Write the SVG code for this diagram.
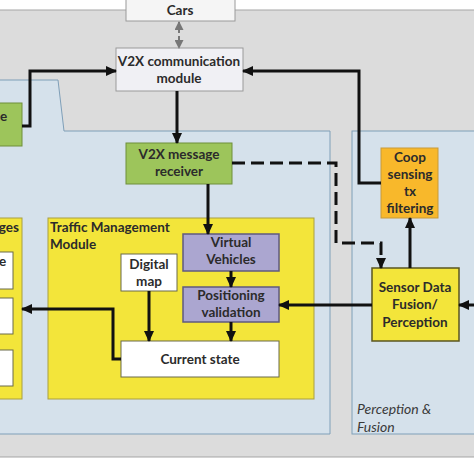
<svg xmlns="http://www.w3.org/2000/svg" width="474" height="474" viewBox="0 0 474 474">
<defs>
<style>
.t{font-family:Lato,"Liberation Sans",sans-serif;font-weight:bold;font-size:13.5px;fill:#2b2b2b;text-anchor:middle}
.tl{font-family:Lato,"Liberation Sans",sans-serif;font-weight:bold;font-size:13.5px;fill:#2b2b2b}
.it{font-family:Lato,"Liberation Sans",sans-serif;font-style:italic;font-size:14px;fill:#3a3a3a}
.c{fill:none;stroke:#111;stroke-width:3}
.d{fill:none;stroke:#111;stroke-width:3;stroke-dasharray:13 6}
.panel{fill:#d5e1eb;stroke:#7f9fb8;stroke-width:1}
.white{fill:#fff;stroke:#6b6b4a;stroke-width:1}
.green{fill:#9dc55b;stroke:#6f8f3a;stroke-width:1}
.purple{fill:#aba6d0;stroke:#5f5a80;stroke-width:1.5}
.yellow{fill:#f3e53a;stroke:#a99f40;stroke-width:1}
</style>
<marker id="ah" markerUnits="userSpaceOnUse" markerWidth="11" markerHeight="10" refX="10" refY="5" orient="auto">
<path d="M0,0 L11,5 L0,10 z" fill="#111"/>
</marker>
<marker id="ag" markerUnits="userSpaceOnUse" markerWidth="9" markerHeight="9" refX="8" refY="4.5" orient="auto">
<path d="M0,0 L9,4.5 L0,9 z" fill="#777"/>
</marker>
<marker id="ags" markerUnits="userSpaceOnUse" markerWidth="9" markerHeight="9" refX="1" refY="4.5" orient="auto">
<path d="M9,0 L0,4.5 L9,9 z" fill="#777"/>
</marker>
</defs>
<rect x="0" y="0" width="474" height="474" fill="#fff"/>
<g id="background">
<rect x="-2" y="10" width="478" height="447" fill="#dcdcdc" stroke="#a5a5a5" stroke-width="1"/>
<path class="panel" d="M-2,80 H58 L64,131 H330 V434 H-2 Z"/>
<rect class="panel" x="352" y="131" width="130" height="303"/>
</g>
<g id="cars">
<rect x="126" y="-2" width="109" height="23" fill="#f5f5f5" stroke="#9a9a9a" stroke-width="1"/>
<text class="t" x="180" y="15">Cars</text>
</g>
<g id="v2x-comm">
<rect x="116" y="48" width="127" height="43" fill="#f0f0f4" stroke="#9a9a9a" stroke-width="1"/>
<text class="t" x="179" y="66">V2X communication</text>
<text class="t" x="179" y="83">module</text>
</g>
<g id="left-green">
<rect class="green" x="-2" y="103" width="24" height="43"/>
<text class="tl" x="0" y="121">e</text>
</g>
<g id="v2x-receiver">
<rect class="green" x="126" y="143" width="106" height="41"/>
<text class="t" x="179" y="159">V2X message</text>
<text class="t" x="179" y="176">receiver</text>
</g>
<g id="coop">
<rect x="381" y="148" width="57" height="70" fill="#f8b82b" stroke="#c79a3a" stroke-width="1"/>
<text class="t" x="410" y="162">Coop</text>
<text class="t" x="410" y="179">sensing</text>
<text class="t" x="410" y="196">tx</text>
<text class="t" x="410" y="213">filtering</text>
</g>
<g id="left-module">
<rect class="yellow" x="-2" y="218" width="24" height="181"/>
<text class="tl" x="19" y="232" style="text-anchor:end">ges</text>
<rect class="white" x="-2" y="252" width="15" height="37"/>
<text class="tl" x="-1" y="266">e</text>
<rect class="white" x="-2" y="298" width="15" height="36"/>
<rect class="white" x="-2" y="350" width="15" height="36"/>
</g>
<g id="traffic-management">
<rect class="yellow" x="48" y="218" width="266" height="181"/>
<text class="tl" x="50" y="232">Traffic Management</text>
<text class="tl" x="50" y="249">Module</text>
</g>
<g id="digital-map">
<rect class="white" x="121" y="254" width="56" height="37"/>
<text class="t" x="149" y="269">Digital</text>
<text class="t" x="149" y="286">map</text>
</g>
<g id="virtual-vehicles">
<rect class="purple" x="183" y="234" width="96" height="37"/>
<text class="t" x="231" y="247">Virtual</text>
<text class="t" x="231" y="264">Vehicles</text>
</g>
<g id="positioning">
<rect class="purple" x="183" y="287" width="96" height="35"/>
<text class="t" x="231" y="300">Positioning</text>
<text class="t" x="231" y="317">validation</text>
</g>
<g id="current-state">
<rect class="white" x="121" y="341" width="158" height="36"/>
<text class="t" x="200" y="364">Current state</text>
</g>
<g id="sensor-fusion">
<rect x="372" y="268" width="87" height="73" fill="#f3e53a" stroke="#5a5520" stroke-width="1.5"/>
<text class="t" x="415" y="292">Sensor Data</text>
<text class="t" x="415" y="309">Fusion/</text>
<text class="t" x="415" y="327">Perception</text>
</g>
<g id="perception-label">
<text class="it" x="357" y="414">Perception &amp;</text>
<text class="it" x="357" y="432">Fusion</text>
</g>
<g id="connectors">
<path d="M179,22 V48" fill="none" stroke="#777" stroke-width="2" stroke-dasharray="4 3" marker-start="url(#ags)" marker-end="url(#ag)"/>
<path class="c" d="M22,126 H30 V71 H116" marker-end="url(#ah)"/>
<path class="c" d="M177,91 V143" marker-end="url(#ah)"/>
<path class="c" d="M208,184 V234" marker-end="url(#ah)"/>
<path class="c" d="M231,271 V287" marker-end="url(#ah)"/>
<path class="c" d="M231,322 V341" marker-end="url(#ah)"/>
<path class="c" d="M149,291 V341" marker-end="url(#ah)"/>
<path class="c" d="M121,359 H113 V309 H22" marker-end="url(#ah)"/>
<path class="c" d="M381,183 H359 V71 H243" marker-end="url(#ah)"/>
<path class="c" d="M410,268 V218" marker-end="url(#ah)"/>
<path class="c" d="M476,305 H459" marker-end="url(#ah)"/>
<path class="c" d="M372,305 H279" marker-end="url(#ah)"/>
<path class="d" d="M232,163 H336 V243 H381 V268" marker-end="url(#ah)"/>
</g>
</svg>
